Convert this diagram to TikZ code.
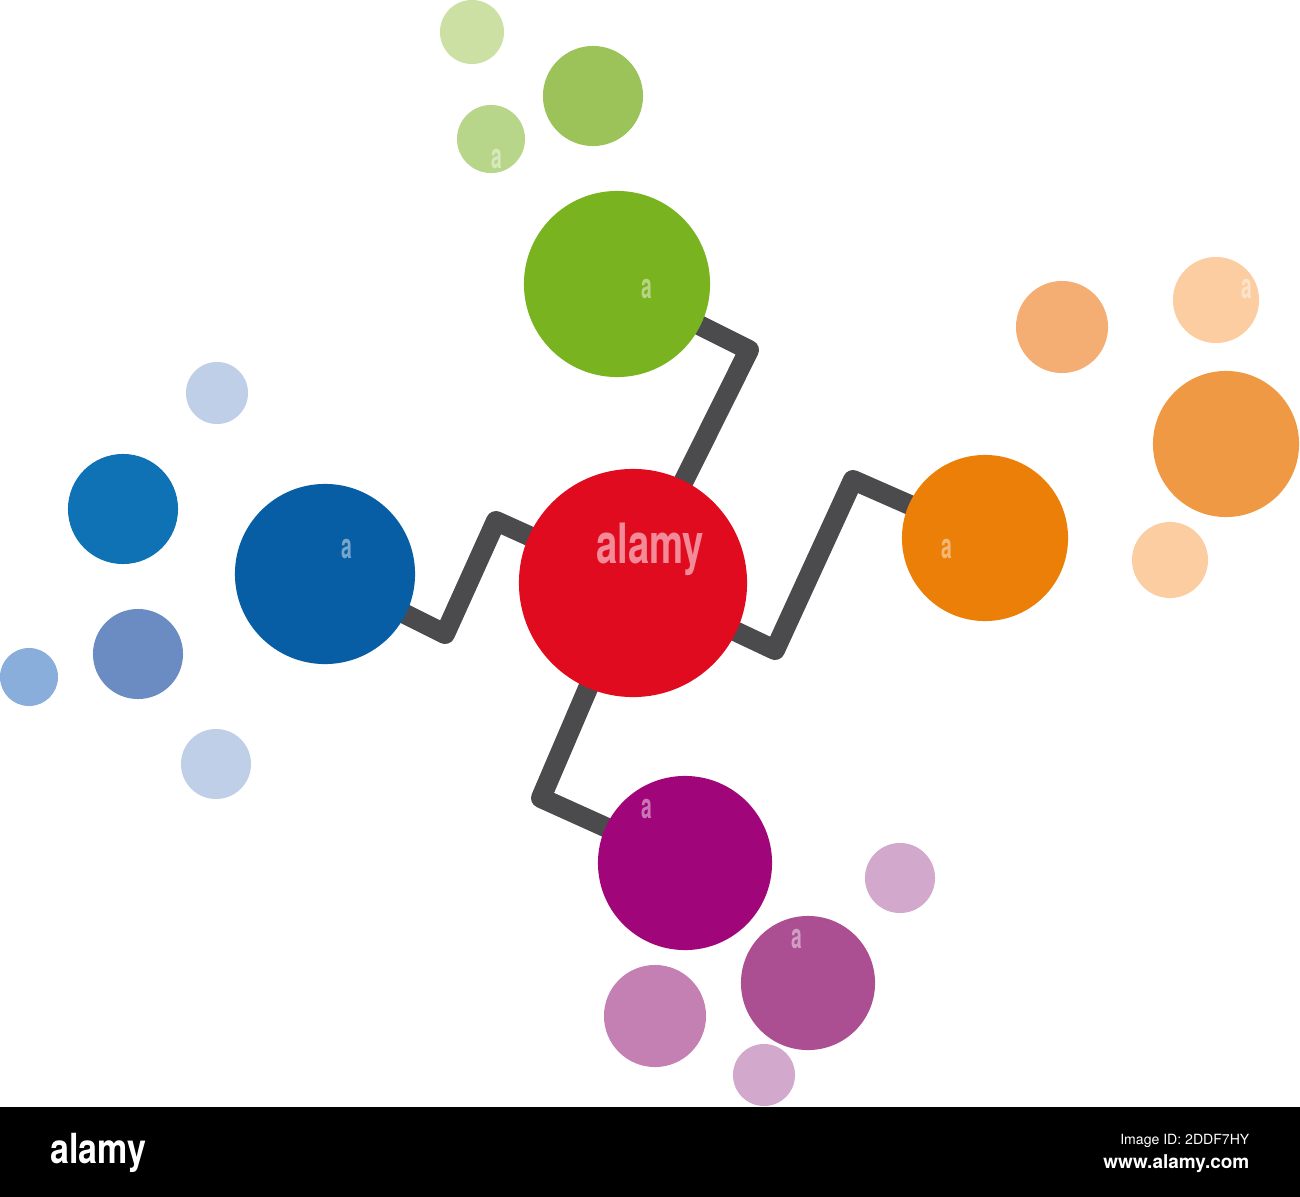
\documentclass[tikz,border=0pt]{standalone}
\usepackage{fontspec}
\setmainfont{TeX Gyre Heros}
\usetikzlibrary{backgrounds}
\definecolor{cred}{HTML}{E00B1E}
\definecolor{cgreen}{HTML}{79B31F}
\definecolor{cgreenA}{HTML}{9BC35A}
\definecolor{cgreenB}{HTML}{B8D68A}
\definecolor{cgreenC}{HTML}{CDE0A3}
\definecolor{corange}{HTML}{EC7F07}
\definecolor{corangeA}{HTML}{F09944}
\definecolor{corangeB}{HTML}{F4AE73}
\definecolor{corangeC}{HTML}{FBCDA0}
\definecolor{cblue}{HTML}{085EA4}
\definecolor{cblueA}{HTML}{0E72B5}
\definecolor{cblueB}{HTML}{6B8CC2}
\definecolor{cblueC}{HTML}{8AAEDB}
\definecolor{cblueD}{HTML}{BFCFE8}
\definecolor{cpurple}{HTML}{A0067A}
\definecolor{cpurpleA}{HTML}{AB4E92}
\definecolor{cpurpleB}{HTML}{C480B2}
\definecolor{cpurpleC}{HTML}{D2A8CC}
\definecolor{cgray}{HTML}{4B4B4D}
\definecolor{wmark}{HTML}{F28A98}
\tikzset{
  ball/.style 2 args={circle, fill=#1, draw=none, minimum size=#2*0.02cm, inner sep=0pt},
  conn/.style={draw=cgray, line width=0.2cm, line join=round},
  wm/.style={font=\bfseries\fontsize{15.8}{16}\selectfont, text=wmark, xscale=0.69, inner sep=0pt, anchor=base},
  tinya/.style={font=\bfseries\fontsize{10}{10}\selectfont, text=white, opacity=0.45, xscale=0.55, inner sep=0pt},
  bartext/.style={text=white, inner sep=0pt, anchor=base east}
}
\begin{document}
\begin{tikzpicture}[x=0.01cm, y=-0.01cm]
\useasboundingbox (0,0) rectangle (1300,1197);
% main circles
\node[ball={cred}{114}]    (red)    at (633,583) {};
\node[ball={cgreen}{93}]   (green)  at (617,284) {};
\node[ball={corange}{83}]  (orange) at (985,538) {};
\node[ball={cblue}{90}]    (blue)   at (325,574) {};
\node[ball={cpurple}{87}]  (purple) at (685,863) {};
% corner coordinates
\coordinate (gc) at (749,350);
\coordinate (oc1) at (775,650);
\coordinate (oc2) at (853,480);
\coordinate (bc1) at (445,634);
\coordinate (bc2) at (496,521);
\coordinate (pc) at (541,798);
\begin{scope}[on background layer]
\fill[white] (0,0) rectangle (1300,1197);
\draw[conn] (green.center) -- (gc) -- (red.center);
\draw[conn] (red.center) -- (oc1) -- (oc2) -- (orange.center);
\draw[conn] (blue.center) -- (bc1) -- (bc2) -- (red.center);
\draw[conn] (red.center) -- (pc) -- (purple.center);
\end{scope}
% green satellites
\node[ball={cgreenC}{32}] (g1) at (472,32) {};
\node[ball={cgreenA}{50}] (g2) at (593,96) {};
\node[ball={cgreenB}{34}] (g3) at (491,139) {};
% orange satellites
\node[ball={corangeB}{46}] (o1) at (1062,327) {};
\node[ball={corangeC}{43}] (o2) at (1216,300) {};
\node[ball={corangeA}{73}] (o3) at (1226,444) {};
\node[ball={corangeC}{38}] (o4) at (1170,560) {};
% blue satellites
\node[ball={cblueD}{31}] (b1) at (217,393) {};
\node[ball={cblueA}{55}] (b2) at (123,509) {};
\node[ball={cblueB}{45}] (b3) at (138,654) {};
\node[ball={cblueC}{29}] (b4) at (29,677) {};
\node[ball={cblueD}{35}] (b5) at (216,764) {};
% purple satellites
\node[ball={cpurpleC}{35}] (p1) at (900,878) {};
\node[ball={cpurpleA}{67}] (p2) at (808,983) {};
\node[ball={cpurpleB}{51}] (p3) at (655,1016) {};
\node[ball={cpurpleC}{31}] (p4) at (764,1075) {};
% watermark text
\node[wm] (wmtext) at (650,563) {alamy};
\node[tinya] (a1) at (647,289) {a};
\node[tinya] (a2) at (947,549) {a};
\node[tinya] (a3) at (347,549) {a};
\node[tinya] (a4) at (647,809) {a};
\node[tinya] (a5) at (797,939) {a};
\node[tinya] (a6) at (1247,289) {a};
\node[tinya] (a7) at (497,159) {a};
% bottom bar
\fill[black] (0,1107) rectangle (1300,1197);
\node[text=white, font=\bfseries\fontsize{11.8}{12}\selectfont, xscale=0.82, inner sep=0pt, anchor=base west] (logo) at (50,1163) {alamy};
\node[bartext, font=\fontsize{4}{4}\selectfont] (imgid) at (1250,1144) {Image ID: 2DDF7HY};
\node[bartext, font=\bfseries\fontsize{5.4}{5.4}\selectfont] (www) at (1250,1168) {www.alamy.com};
\end{tikzpicture}
\end{document}
